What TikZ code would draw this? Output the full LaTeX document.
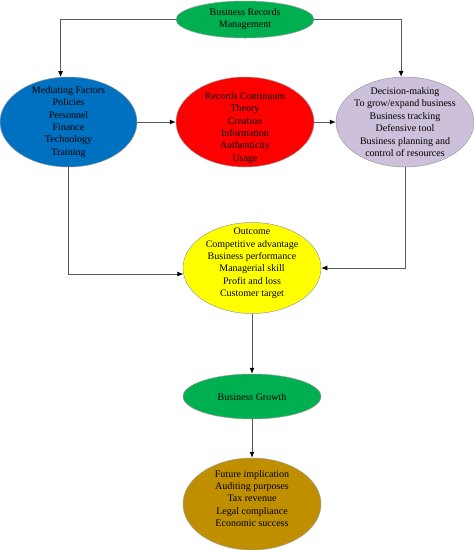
\documentclass[tikz,border=0pt]{standalone}
\usepackage{fontspec}
\setmainfont{Liberation Serif}
\usetikzlibrary{shapes.geometric,arrows.meta}
\definecolor{cgreen}{RGB}{0,176,80}
\definecolor{cblue}{RGB}{0,112,192}
\definecolor{cred}{RGB}{255,0,0}
\definecolor{clav}{RGB}{204,192,218}
\definecolor{cyel}{RGB}{255,255,0}
\definecolor{cgold}{RGB}{191,143,0}
\definecolor{cline}{RGB}{90,90,90}
\begin{document}
\begin{tikzpicture}[x=1pt,y=-1pt,
  ell/.style={ellipse, draw=cline!60, line width=0.5pt, inner sep=0pt},
  txt/.style={align=center, font=\fontsize{10}{12.4}\selectfont, inner sep=0pt, text=black},
  conn/.style={draw=cline, line width=0.8pt, -{Latex[length=6pt,width=5pt,color=black]}}]
\fill[white] (0,0) rectangle (474,550);
\useasboundingbox (0,0) rectangle (474,550);
% ellipses
\node[ell, fill=cgreen, minimum width=138pt, minimum height=37pt] (brm) at (245,19.5) {};
\node[ell, fill=cblue, minimum width=137pt, minimum height=90pt] (blue) at (68.5,122) {};
\node[ell, fill=cred, minimum width=138pt, minimum height=90pt] (red) at (245,122) {};
\node[ell, fill=clav, minimum width=138pt, minimum height=90pt] (lav) at (405,122) {};
\node[ell, fill=cyel, minimum width=138pt, minimum height=91pt] (yel) at (252,268) {};
\node[ell, fill=cgreen, minimum width=138pt, minimum height=45pt] (bg) at (252,396.5) {};
\node[ell, fill=cgold, minimum width=138pt, minimum height=92pt] (gold) at (252,504) {};
% texts
\node[txt] (brmT) at (245,19) {Business Records\\Management};
\node[txt] (blueT) at (68.5,122) {Mediating Factors\\Policies\\Personnel\\Finance\\Technology\\Training};
\node[txt] (redT) at (245,128) {Records Continuum\\Theory\\Creation\\Information\\Authenticity\\Usage};
\node[txt] (lavT) at (405,122) {Decision-making\\To grow/expand business\\Business tracking\\Defensive tool\\Business planning and\\control of resources};
\node[txt] (yelT) at (252,263.5) {Outcome\\Competitive advantage\\Business performance\\Managerial skill\\Profit and loss\\Customer target};
\node[txt] (bgT) at (252,397) {Business Growth};
\node[txt] (goldT) at (252,498.5) {Future implication\\Auditing purposes\\Tax revenue\\Legal compliance\\Economic success};
% connectors
\draw[conn] (brm.west) -| (blue.100);
\draw[conn] (brm.east) -| (lav.95);
\draw[conn] (blue.east) -- (red.west);
\draw[conn] (red.east) -- (lav.west);
\draw[conn] (blue.south) |- (yel.185);
\draw[conn] (lav.south) |- (yel.east);
\draw[conn] (yel.south) -- (bg.north);
\draw[conn] (bg.south) -- (gold.north);
\end{tikzpicture}
\end{document}
